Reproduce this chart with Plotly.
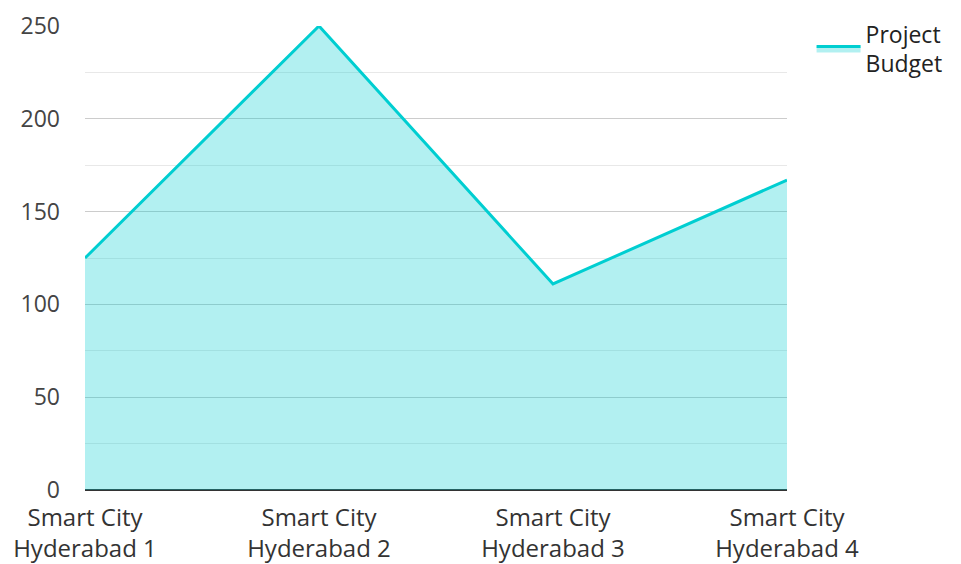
import plotly.graph_objects as go

categories = ["Smart City<br>Hyderabad 1", "Smart City<br>Hyderabad 2",
              "Smart City<br>Hyderabad 3", "Smart City<br>Hyderabad 4"]
budget = [125, 250, 111, 167]
series_name = "Project<br>Budget"

fig = go.Figure()
fig.add_trace(go.Scatter(
    x=categories, y=budget, name=series_name, mode="lines",
    line=dict(color="#00CED1", width=3),
    fill="tozeroy", fillcolor="rgba(0,206,209,0.3)",
    showlegend=True,
))

fig.update_layout(
    width=961, height=564,
    margin=dict(l=85, r=174, t=23, b=74),
    paper_bgcolor="white", plot_bgcolor="white",
    font=dict(family="Open Sans, Noto Sans, sans-serif", size=24, color="#444"),
    legend=dict(x=1.035, y=1.03, xanchor="left", yanchor="top", itemwidth=44,
                borderwidth=0, tracegroupgap=0,
                font=dict(size=23, color="#222"), bgcolor="rgba(0,0,0,0)"),
    xaxis=dict(range=[0, 3], showgrid=False, showline=False, zeroline=False,
               automargin=False, ticks="", ticklabelstandoff=11,
               tickfont=dict(size=24, color="#333")),
    yaxis=dict(range=[0, 250], dtick=50, showgrid=True, gridcolor="#cccccc", gridwidth=1,
               zeroline=True, zerolinecolor="#333", zerolinewidth=2,
               automargin=False, showline=False, ticks="", ticklabelstandoff=24,
               tickfont=dict(size=23, color="#444"),
               minor=dict(dtick=25, showgrid=True, gridcolor="#e8e8e8", gridwidth=1)),
)

fig.write_html("out.html", config={"displayModeBar": False},
               post_script="document.body.style.margin='0';")
